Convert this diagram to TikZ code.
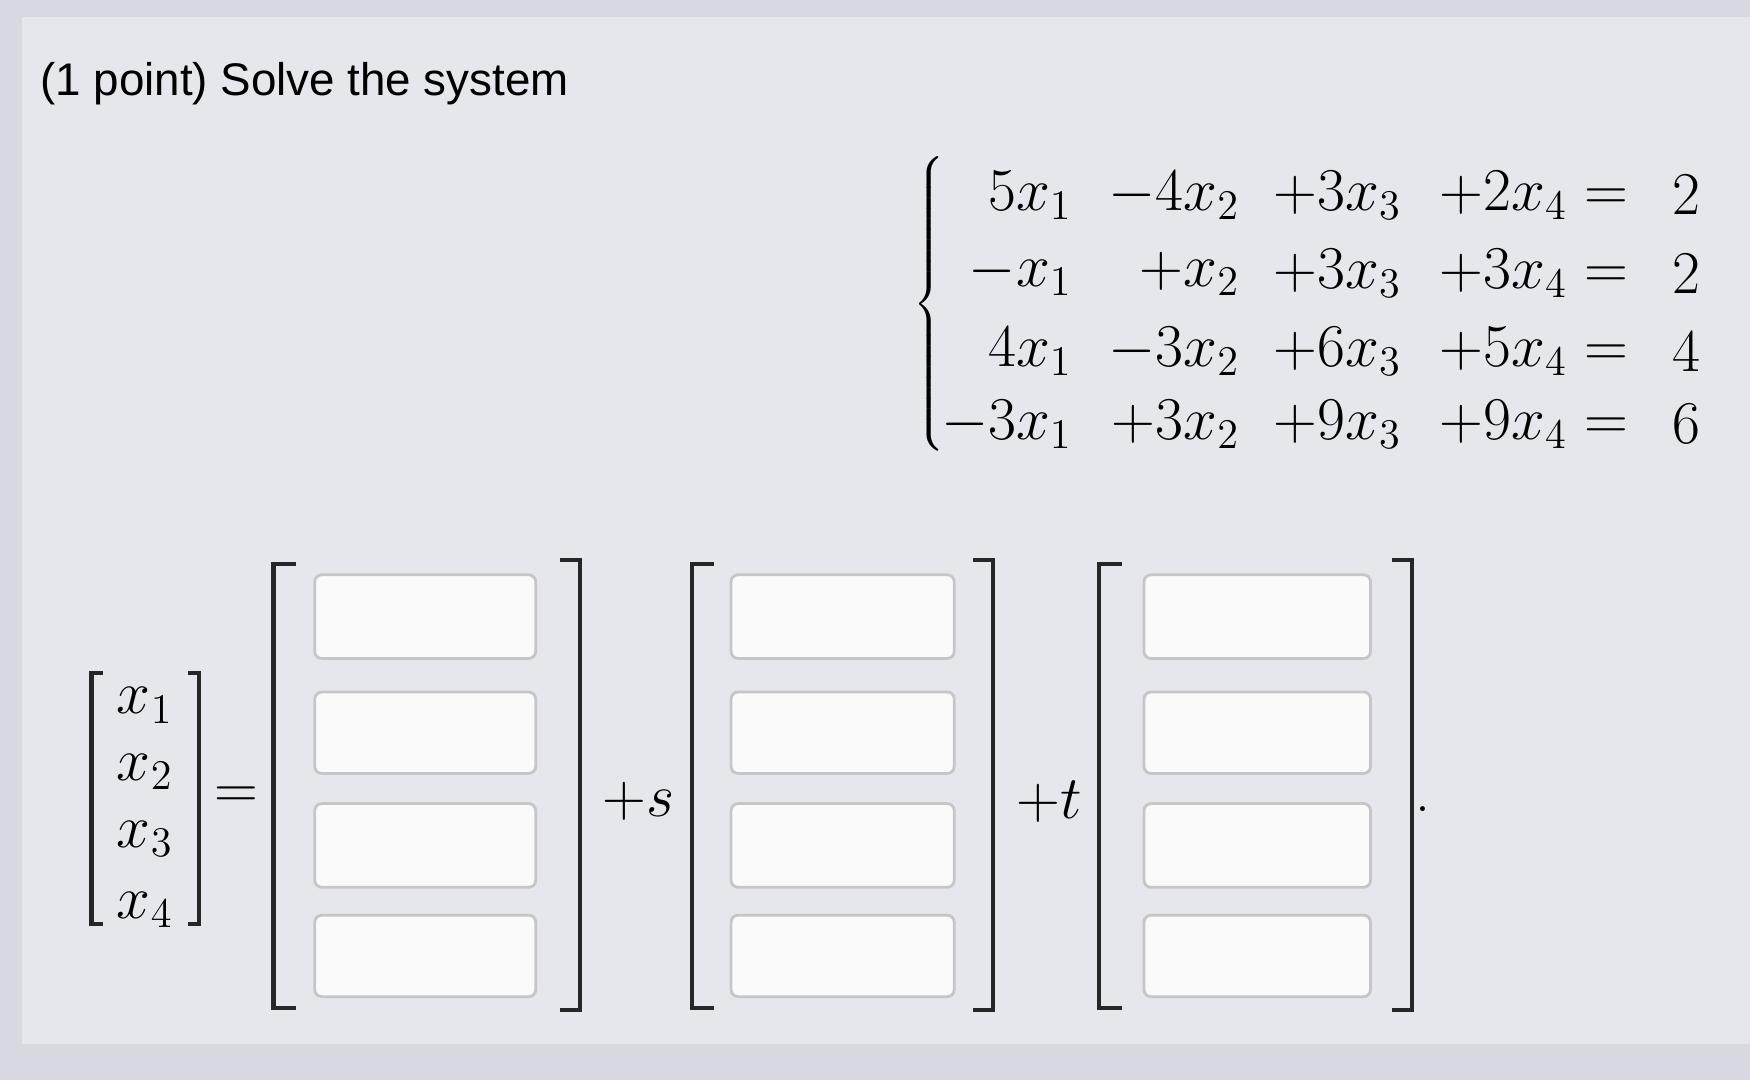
\documentclass[tikz,border=0pt]{standalone}
\usepackage{fontspec}
\usepackage{amsmath}
\setsansfont{Liberation Sans}
\begin{document}
\begin{tikzpicture}[x=0.01116cm,y=-0.01116cm,
  ansbox/.style={draw=gray!45,fill=white!60!gray!10,rounded corners=2pt,line width=0.8pt},
  brk/.style={line width=1.2pt,black!85},
  eq/.style={anchor=east,font=\fontsize{17}{20}\selectfont},
  lbl/.style={font=\fontsize{17}{20}\selectfont}]
\useasboundingbox (0,0) rectangle (1568,968);
\fill[gray!18!blue!4!white!88!black] (0,0) rectangle (1568,968);
\fill[blue!3!white!93!black] (20,15) rectangle (1568,935);
\node[anchor=west,font=\sffamily\fontsize{13}{16}\selectfont] (title) at (25,75) {(1 point) Solve the system};
% system
\node[inner sep=0pt] (brace) at (834,275) {$\left\{\rule[-1.45cm]{0pt}{2.9cm}\right.$};
\foreach \y/\a/\b/\c/\d/\e [count=\i] in {175/5x_1/-4x_2/+3x_3/+2x_4/2, 245/-x_1/+x_2/+3x_3/+3x_4/2, 315/4x_1/-3x_2/+6x_3/+5x_4/4, 380/-3x_1/+3x_2/+9x_3/+9x_4/6}{
  \node[eq] (a\i) at (972,\y) {$\a$};
  \node[eq] (b\i) at (1122,\y) {$\b$};
  \node[eq] (c\i) at (1267,\y) {$\c$};
  \node[eq] (d\i) at (1470,\y) {$\d=$};
  \node[eq] (e\i) at (1535,\y) {$\e$};
}
% x vector
\draw[brk] (92,603)--(82,603)--(82,828)--(92,828);
\draw[brk] (168,603)--(178,603)--(178,828)--(168,828);
\foreach \y/\t [count=\i] in {632/x_1,692/x_2,752/x_3,815/x_4}
  \node[lbl] (xv\i) at (130,\y) {$\t$};
\node[lbl] (eqs) at (212,715) {$=$};
% big brackets
\foreach \l/\r/\bl/\br [count=\k] in {245/520/282/480, 620/890/655/855, 985/1265/1025/1228}{
  \draw[brk] (\l+20,505)--(\l,505)--(\l,903)--(\l+20,903);
  \draw[brk] (\r-18,502)--(\r,502)--(\r,905)--(\r-18,905);
  \foreach \t/\bt [count=\j] in {515/590,620/693,720/795,820/893}
    \node[ansbox,minimum width=(\br-\bl)*0.01116cm,minimum height=(\bt-\t)*0.01116cm] (m\k\j) at ({(\bl+\br)/2},{(\t+\bt)/2}) {};
}
\node[lbl] (ps) at (572,718) {$+s$};
\node[lbl] (pt) at (940,718) {$+t$};
\node[lbl] (dot) at (1275,725) {.};
\end{tikzpicture}
\end{document}
